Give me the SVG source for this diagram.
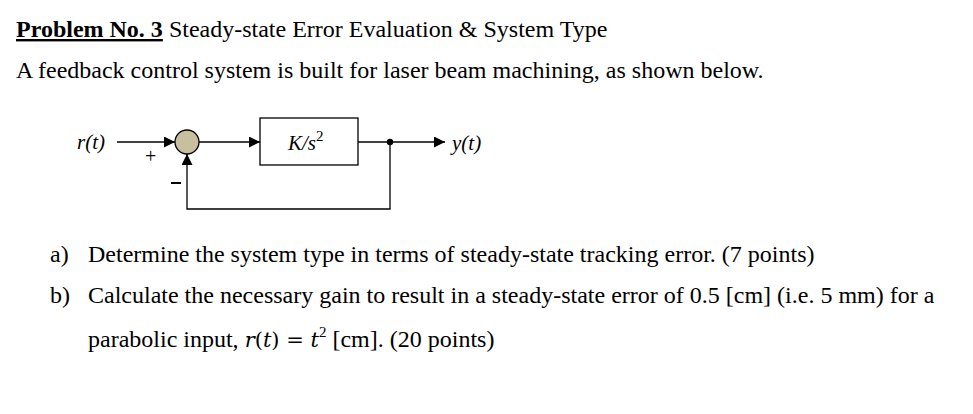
<svg xmlns="http://www.w3.org/2000/svg" width="973" height="414" viewBox="0 0 973 414">
<style>
text{font-family:"Liberation Serif",serif;fill:#000}
.t{font-size:24px}
.d{font-size:21px;font-style:italic}
.ln{stroke:#000;stroke-width:1.3;fill:none}
</style>
<defs><marker id="a" viewBox="0 0 10 10" refX="10" refY="5" markerWidth="11" markerHeight="11" markerUnits="userSpaceOnUse" orient="auto"><path d="M0,0L10,5L0,10z" fill="#000"/></marker></defs>
<rect width="973" height="414" fill="#fff"/>
<text class="t" x="16" y="37"><tspan font-weight="bold" text-decoration="underline">Problem No. 3</tspan> Steady-state Error Evaluation &amp; System Type</text>
<text class="t" x="16" y="78">A feedback control system is built for laser beam machining, as shown below.</text>
<g id="connectors">
<line class="ln" x1="117" y1="142" x2="175" y2="142" marker-end="url(#a)"/>
<line class="ln" x1="199" y1="142" x2="260" y2="142" marker-end="url(#a)"/>
<line class="ln" x1="358" y1="142" x2="445" y2="142" marker-end="url(#a)"/>
<polyline class="ln" points="390,142 390,209 187,209 187,154" marker-end="url(#a)"/>
<circle cx="390" cy="142" r="3.2" fill="#000"/>
</g>
<g id="r"><text class="d" x="77" y="149">r(t)</text></g>
<g id="sum"><circle cx="187" cy="142" r="12" fill="#c8bf9f" stroke="#000" stroke-width="1.3"/>
<text x="145" y="163" font-size="20px">+</text><line x1="171" y1="183" x2="181" y2="183" stroke="#000" stroke-width="2"/></g>
<g id="plant"><rect x="260" y="118" width="98" height="47" fill="#fff" stroke="#000" stroke-width="1.3"/>
<text class="d" x="288" y="150">K/s<tspan font-style="normal" font-size="15px" dy="-9">2</tspan></text></g>
<g id="y"><text class="d" x="452" y="150">y(t)</text></g>
<text class="t" x="50" y="262">a)</text><text class="t" x="88" y="262">Determine the system type in terms of steady-state tracking error. (7 points)</text>
<text class="t" x="50" y="303">b)</text><text class="t" x="88" y="303">Calculate the necessary gain to result in a steady-state error of 0.5 [cm] (i.e. 5 mm) for a</text>
<text class="t" x="88" y="347">parabolic input, <tspan font-family="'DejaVu Serif',serif" font-style="italic" font-size="21px">r</tspan><tspan font-family="'DejaVu Serif',serif" font-size="21px">(</tspan><tspan font-family="'DejaVu Serif',serif" font-style="italic" font-size="21px">t</tspan><tspan font-family="'DejaVu Serif',serif" font-size="21px">) = </tspan><tspan font-family="'DejaVu Serif',serif" font-style="italic" font-size="21px">t</tspan><tspan font-size="15px" dy="-10">2</tspan><tspan dy="10"> [cm].  (20 points)</tspan></text>
</svg>
